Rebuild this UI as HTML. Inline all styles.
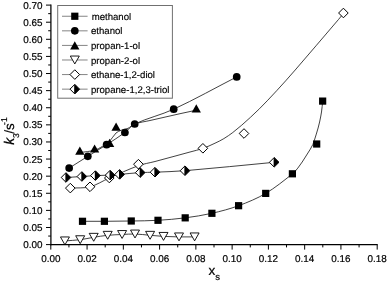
<!DOCTYPE html>
<html><head><meta charset="utf-8"><title>chart</title>
<style>html,body{margin:0;padding:0;background:#fff;}body{width:387px;height:281px;overflow:hidden;}</style></head>
<body>
<svg width="387" height="281" viewBox="0 0 387 281" style="display:block" text-rendering="geometricPrecision">
<rect width="387" height="281" fill="#fff"/>
<path d="M82.50 221.30 C89.80 221.30 97.10 221.34 104.40 221.30 C113.35 221.24 122.30 221.17 131.25 221.00 C140.17 220.83 149.10 220.82 158.00 220.30 C167.08 219.77 176.18 219.02 185.20 217.85 C194.15 216.69 203.11 215.30 211.90 213.30 C220.91 211.25 229.95 208.90 238.60 205.70 C247.88 202.27 257.21 198.43 265.70 193.40 C275.17 187.79 283.83 180.63 292.50 173.80 C294.53 172.20 296.16 170.10 297.80 168.10 C299.39 166.17 300.79 164.07 302.20 162.00 C303.53 160.04 304.73 158.00 306.00 156.00 C307.43 153.73 308.93 151.50 310.30 149.20 C311.23 147.64 312.15 146.05 312.90 144.40 C313.51 143.05 313.93 141.61 314.40 140.20 C315.07 138.18 315.68 136.14 316.30 134.10 C316.92 132.07 317.54 130.04 318.10 128.00 C318.64 126.01 319.17 124.02 319.60 122.00 C320.30 118.68 321.00 115.35 321.50 112.00 C322.03 108.42 322.30 104.80 322.70 101.20" fill="none" stroke="#111" stroke-width="0.8"/>
<rect x="78.90" y="217.70" width="7.20" height="7.20" fill="#000"/>
<rect x="100.80" y="217.70" width="7.20" height="7.20" fill="#000"/>
<rect x="127.65" y="217.40" width="7.20" height="7.20" fill="#000"/>
<rect x="154.40" y="216.70" width="7.20" height="7.20" fill="#000"/>
<rect x="181.60" y="214.25" width="7.20" height="7.20" fill="#000"/>
<rect x="208.30" y="209.70" width="7.20" height="7.20" fill="#000"/>
<rect x="235.00" y="202.10" width="7.20" height="7.20" fill="#000"/>
<rect x="262.10" y="189.80" width="7.20" height="7.20" fill="#000"/>
<rect x="288.80" y="170.20" width="7.20" height="7.20" fill="#000"/>
<rect x="313.10" y="140.40" width="7.20" height="7.20" fill="#000"/>
<rect x="319.05" y="97.50" width="7.20" height="7.20" fill="#000"/>
<path d="M69.15 168.10 C75.37 164.17 81.56 160.20 87.80 156.30 C94.04 152.40 100.40 148.68 106.60 144.70 C112.77 140.74 119.01 136.84 124.90 132.50 C128.38 129.94 130.84 125.84 134.70 124.00 C147.11 118.08 161.09 115.02 173.70 109.20 C195.09 99.32 215.70 87.67 236.70 76.90" fill="none" stroke="#111" stroke-width="0.8"/>
<circle cx="69.15" cy="168.10" r="3.85" fill="#000"/>
<circle cx="87.80" cy="156.30" r="3.85" fill="#000"/>
<circle cx="106.60" cy="144.70" r="3.85" fill="#000"/>
<circle cx="124.90" cy="132.50" r="3.85" fill="#000"/>
<circle cx="134.70" cy="124.00" r="3.85" fill="#000"/>
<circle cx="173.70" cy="109.20" r="3.85" fill="#000"/>
<circle cx="236.70" cy="76.90" r="3.85" fill="#000"/>
<path d="M79.85 152.60 C84.77 151.80 89.85 151.52 94.60 150.20 C97.40 149.42 99.98 147.79 102.50 146.30 C104.95 144.86 107.49 143.38 109.50 141.40 C111.99 138.94 113.48 135.37 116.00 133.00 C117.44 131.64 119.52 130.94 121.40 130.20 C123.52 129.37 125.95 129.26 128.00 128.30 C130.38 127.19 132.23 124.87 134.70 124.00 C139.57 122.27 144.90 121.66 150.00 120.50 C155.00 119.36 160.00 118.23 165.00 117.10 C170.00 115.97 174.99 114.80 180.00 113.70 C185.43 112.50 190.87 111.37 196.30 110.20" fill="none" stroke="#111" stroke-width="0.8"/>
<path d="M79.85 146.55 L84.50 154.75 L75.20 154.75 Z" fill="#000"/>
<path d="M94.60 144.40 L99.25 152.60 L89.95 152.60 Z" fill="#000"/>
<path d="M109.60 138.80 L114.25 147.00 L104.95 147.00 Z" fill="#000"/>
<path d="M116.10 122.50 L120.75 130.70 L111.45 130.70 Z" fill="#000"/>
<path d="M196.30 104.30 L200.95 112.50 L191.65 112.50 Z" fill="#000"/>
<path d="M64.95 240.90 C70.03 240.50 75.15 240.33 80.20 239.70 C84.73 239.13 89.19 238.02 93.70 237.30 C98.35 236.56 103.01 235.76 107.70 235.30 C112.48 234.83 117.30 234.73 122.10 234.50 C126.40 234.30 130.71 233.88 135.00 234.00 C140.04 234.14 145.07 234.88 150.10 235.30 C154.57 235.68 159.03 236.15 163.50 236.40 C168.66 236.69 173.83 236.82 179.00 236.90 C184.20 236.98 189.40 236.90 194.60 236.90" fill="none" stroke="#111" stroke-width="0.8"/>
<path d="M64.95 244.85 L69.45 236.95 L60.45 236.95 Z" fill="#fff" stroke="#000" stroke-width="0.9"/>
<path d="M80.20 243.65 L84.70 235.75 L75.70 235.75 Z" fill="#fff" stroke="#000" stroke-width="0.9"/>
<path d="M93.70 241.25 L98.20 233.35 L89.20 233.35 Z" fill="#fff" stroke="#000" stroke-width="0.9"/>
<path d="M107.70 239.25 L112.20 231.35 L103.20 231.35 Z" fill="#fff" stroke="#000" stroke-width="0.9"/>
<path d="M122.10 238.45 L126.60 230.55 L117.60 230.55 Z" fill="#fff" stroke="#000" stroke-width="0.9"/>
<path d="M135.00 237.95 L139.50 230.05 L130.50 230.05 Z" fill="#fff" stroke="#000" stroke-width="0.9"/>
<path d="M150.10 239.25 L154.60 231.35 L145.60 231.35 Z" fill="#fff" stroke="#000" stroke-width="0.9"/>
<path d="M163.50 240.35 L168.00 232.45 L159.00 232.45 Z" fill="#fff" stroke="#000" stroke-width="0.9"/>
<path d="M179.00 240.85 L183.50 232.95 L174.50 232.95 Z" fill="#fff" stroke="#000" stroke-width="0.9"/>
<path d="M194.60 240.85 L199.10 232.95 L190.10 232.95 Z" fill="#fff" stroke="#000" stroke-width="0.9"/>
<path d="M70.30 188.10 C76.87 187.67 83.73 188.42 90.00 186.80 C96.73 185.06 102.82 180.83 109.30 178.00 C118.95 173.79 128.52 169.27 138.40 165.70 C143.75 163.77 149.48 162.95 155.00 161.50 C161.68 159.75 168.34 157.91 175.00 156.10 C180.00 154.74 185.00 153.38 190.00 152.00 C194.30 150.81 198.70 149.88 202.90 148.40 C207.03 146.95 211.02 145.06 215.00 143.20 C218.02 141.79 221.04 140.32 223.90 138.60 C226.98 136.75 229.93 134.66 232.80 132.50 C235.86 130.19 238.79 127.70 241.70 125.20 C244.72 122.60 247.67 119.91 250.60 117.20 C253.57 114.44 256.52 111.65 259.40 108.80 C262.25 105.98 265.03 103.10 267.80 100.20 C270.80 97.06 273.76 93.89 276.70 90.70 C279.69 87.46 282.66 84.19 285.60 80.90 C288.83 77.29 292.03 73.66 295.20 70.00 C302.16 61.96 309.08 53.88 316.00 45.80 C323.48 37.08 330.95 28.35 338.40 19.60 C340.09 17.62 341.73 15.60 343.40 13.60" fill="none" stroke="#111" stroke-width="0.8"/>
<path d="M70.30 183.30 L75.10 188.10 L70.30 192.90 L65.50 188.10 Z" fill="#fff" stroke="#000" stroke-width="1"/>
<path d="M90.00 182.00 L94.80 186.80 L90.00 191.60 L85.20 186.80 Z" fill="#fff" stroke="#000" stroke-width="1"/>
<path d="M109.30 173.20 L114.10 178.00 L109.30 182.80 L104.50 178.00 Z" fill="#fff" stroke="#000" stroke-width="1"/>
<path d="M138.40 159.40 L143.20 164.20 L138.40 169.00 L133.60 164.20 Z" fill="#fff" stroke="#000" stroke-width="1"/>
<path d="M202.90 143.50 L207.70 148.30 L202.90 153.10 L198.10 148.30 Z" fill="#fff" stroke="#000" stroke-width="1"/>
<path d="M244.00 128.70 L248.80 133.50 L244.00 138.30 L239.20 133.50 Z" fill="#fff" stroke="#000" stroke-width="1"/>
<path d="M343.40 8.20 L348.20 13.00 L343.40 17.80 L338.60 13.00 Z" fill="#fff" stroke="#000" stroke-width="1"/>
<path d="M66.00 177.50 C71.30 177.17 76.60 176.84 81.90 176.50 C86.40 176.21 90.90 175.82 95.40 175.60 C100.30 175.36 105.20 175.34 110.10 175.10 C113.27 174.94 116.44 174.66 119.60 174.40 C126.47 173.83 133.32 173.03 140.20 172.60 C145.12 172.29 150.07 172.41 155.00 172.20 C165.00 171.78 175.02 171.53 185.00 170.70 C214.76 168.23 244.47 165.10 274.20 162.30" fill="none" stroke="#111" stroke-width="0.8"/>
<path d="M66.00 172.70 L70.80 177.50 L66.00 182.30 L61.20 177.50 Z" fill="#fff" stroke="#000" stroke-width="1"/>
<path d="M65.40 173.30 L66.00 172.70 L70.80 177.50 L66.00 182.30 L65.40 181.70 Z" fill="#000"/>
<path d="M81.90 171.70 L86.70 176.50 L81.90 181.30 L77.10 176.50 Z" fill="#fff" stroke="#000" stroke-width="1"/>
<path d="M81.30 172.30 L81.90 171.70 L86.70 176.50 L81.90 181.30 L81.30 180.70 Z" fill="#000"/>
<path d="M95.40 170.80 L100.20 175.60 L95.40 180.40 L90.60 175.60 Z" fill="#fff" stroke="#000" stroke-width="1"/>
<path d="M94.80 171.40 L95.40 170.80 L100.20 175.60 L95.40 180.40 L94.80 179.80 Z" fill="#000"/>
<path d="M110.10 170.30 L114.90 175.10 L110.10 179.90 L105.30 175.10 Z" fill="#fff" stroke="#000" stroke-width="1"/>
<path d="M109.50 170.90 L110.10 170.30 L114.90 175.10 L110.10 179.90 L109.50 179.30 Z" fill="#000"/>
<path d="M119.60 169.60 L124.40 174.40 L119.60 179.20 L114.80 174.40 Z" fill="#fff" stroke="#000" stroke-width="1"/>
<path d="M119.00 170.20 L119.60 169.60 L124.40 174.40 L119.60 179.20 L119.00 178.60 Z" fill="#000"/>
<path d="M140.20 167.80 L145.00 172.60 L140.20 177.40 L135.40 172.60 Z" fill="#fff" stroke="#000" stroke-width="1"/>
<path d="M139.60 168.40 L140.20 167.80 L145.00 172.60 L140.20 177.40 L139.60 176.80 Z" fill="#000"/>
<path d="M155.00 167.40 L159.80 172.20 L155.00 177.00 L150.20 172.20 Z" fill="#fff" stroke="#000" stroke-width="1"/>
<path d="M154.40 168.00 L155.00 167.40 L159.80 172.20 L155.00 177.00 L154.40 176.40 Z" fill="#000"/>
<path d="M185.00 165.90 L189.80 170.70 L185.00 175.50 L180.20 170.70 Z" fill="#fff" stroke="#000" stroke-width="1"/>
<path d="M184.40 166.50 L185.00 165.90 L189.80 170.70 L185.00 175.50 L184.40 174.90 Z" fill="#000"/>
<path d="M274.20 157.50 L279.00 162.30 L274.20 167.10 L269.40 162.30 Z" fill="#fff" stroke="#000" stroke-width="1"/>
<path d="M273.60 158.10 L274.20 157.50 L279.00 162.30 L274.20 167.10 L273.60 166.50 Z" fill="#000"/>
<g stroke="#000" stroke-width="1">
<line x1="50.9" y1="4.6" x2="50.9" y2="245.2" stroke-width="1.25"/>
<line x1="50.3" y1="244.70" x2="377.7" y2="244.70" stroke-width="1.25"/>
<line x1="46.0" y1="244.60" x2="50.8" y2="244.60"/>
<line x1="48.2" y1="236.05" x2="50.8" y2="236.05"/>
<line x1="46.0" y1="227.49" x2="50.8" y2="227.49"/>
<line x1="48.2" y1="218.94" x2="50.8" y2="218.94"/>
<line x1="46.0" y1="210.39" x2="50.8" y2="210.39"/>
<line x1="48.2" y1="201.83" x2="50.8" y2="201.83"/>
<line x1="46.0" y1="193.28" x2="50.8" y2="193.28"/>
<line x1="48.2" y1="184.72" x2="50.8" y2="184.72"/>
<line x1="46.0" y1="176.17" x2="50.8" y2="176.17"/>
<line x1="48.2" y1="167.62" x2="50.8" y2="167.62"/>
<line x1="46.0" y1="159.06" x2="50.8" y2="159.06"/>
<line x1="48.2" y1="150.51" x2="50.8" y2="150.51"/>
<line x1="46.0" y1="141.96" x2="50.8" y2="141.96"/>
<line x1="48.2" y1="133.40" x2="50.8" y2="133.40"/>
<line x1="46.0" y1="124.85" x2="50.8" y2="124.85"/>
<line x1="48.2" y1="116.30" x2="50.8" y2="116.30"/>
<line x1="46.0" y1="107.74" x2="50.8" y2="107.74"/>
<line x1="48.2" y1="99.19" x2="50.8" y2="99.19"/>
<line x1="46.0" y1="90.64" x2="50.8" y2="90.64"/>
<line x1="48.2" y1="82.08" x2="50.8" y2="82.08"/>
<line x1="46.0" y1="73.53" x2="50.8" y2="73.53"/>
<line x1="48.2" y1="64.97" x2="50.8" y2="64.97"/>
<line x1="46.0" y1="56.42" x2="50.8" y2="56.42"/>
<line x1="48.2" y1="47.87" x2="50.8" y2="47.87"/>
<line x1="46.0" y1="39.31" x2="50.8" y2="39.31"/>
<line x1="48.2" y1="30.76" x2="50.8" y2="30.76"/>
<line x1="46.0" y1="22.21" x2="50.8" y2="22.21"/>
<line x1="48.2" y1="13.65" x2="50.8" y2="13.65"/>
<line x1="46.0" y1="5.10" x2="50.8" y2="5.10"/>
<line x1="50.80" y1="244.6" x2="50.80" y2="249.6"/>
<line x1="68.93" y1="244.6" x2="68.93" y2="247.4"/>
<line x1="87.07" y1="244.6" x2="87.07" y2="249.6"/>
<line x1="105.20" y1="244.6" x2="105.20" y2="247.4"/>
<line x1="123.33" y1="244.6" x2="123.33" y2="249.6"/>
<line x1="141.47" y1="244.6" x2="141.47" y2="247.4"/>
<line x1="159.60" y1="244.6" x2="159.60" y2="249.6"/>
<line x1="177.73" y1="244.6" x2="177.73" y2="247.4"/>
<line x1="195.87" y1="244.6" x2="195.87" y2="249.6"/>
<line x1="214.00" y1="244.6" x2="214.00" y2="247.4"/>
<line x1="232.13" y1="244.6" x2="232.13" y2="249.6"/>
<line x1="250.27" y1="244.6" x2="250.27" y2="247.4"/>
<line x1="268.40" y1="244.6" x2="268.40" y2="249.6"/>
<line x1="286.53" y1="244.6" x2="286.53" y2="247.4"/>
<line x1="304.67" y1="244.6" x2="304.67" y2="249.6"/>
<line x1="322.80" y1="244.6" x2="322.80" y2="247.4"/>
<line x1="340.93" y1="244.6" x2="340.93" y2="249.6"/>
<line x1="359.07" y1="244.6" x2="359.07" y2="247.4"/>
<line x1="377.20" y1="244.6" x2="377.20" y2="249.6"/>
</g>
<g font-family='"Liberation Sans", Arial, sans-serif' font-size="9.9" fill="#000" stroke="#000" stroke-width="0.2">
<text x="42.6" y="248.10" text-anchor="end">0.00</text>
<text x="42.6" y="230.99" text-anchor="end">0.05</text>
<text x="42.6" y="213.89" text-anchor="end">0.10</text>
<text x="42.6" y="196.78" text-anchor="end">0.15</text>
<text x="42.6" y="179.67" text-anchor="end">0.20</text>
<text x="42.6" y="162.56" text-anchor="end">0.25</text>
<text x="42.6" y="145.46" text-anchor="end">0.30</text>
<text x="42.6" y="128.35" text-anchor="end">0.35</text>
<text x="42.6" y="111.24" text-anchor="end">0.40</text>
<text x="42.6" y="94.14" text-anchor="end">0.45</text>
<text x="42.6" y="77.03" text-anchor="end">0.50</text>
<text x="42.6" y="59.92" text-anchor="end">0.55</text>
<text x="42.6" y="42.81" text-anchor="end">0.60</text>
<text x="42.6" y="25.71" text-anchor="end">0.65</text>
<text x="42.6" y="8.60" text-anchor="end">0.70</text>
<text x="50.80" y="261.9" text-anchor="middle">0.00</text>
<text x="87.07" y="261.9" text-anchor="middle">0.02</text>
<text x="123.33" y="261.9" text-anchor="middle">0.04</text>
<text x="159.60" y="261.9" text-anchor="middle">0.06</text>
<text x="195.87" y="261.9" text-anchor="middle">0.08</text>
<text x="232.13" y="261.9" text-anchor="middle">0.10</text>
<text x="268.40" y="261.9" text-anchor="middle">0.12</text>
<text x="304.67" y="261.9" text-anchor="middle">0.14</text>
<text x="340.93" y="261.9" text-anchor="middle">0.16</text>
<text x="377.20" y="261.9" text-anchor="middle">0.18</text>
</g>
<text font-family='"Liberation Sans", Arial, sans-serif' font-size="13.5" fill="#000" stroke="#000" stroke-width="0.2" x="208.5" y="274.5">x<tspan font-size="9.5" dy="5.4">s</tspan></text>
<text font-family='"Liberation Sans", Arial, sans-serif' font-size="14" fill="#000" stroke="#000" stroke-width="0.2" transform="translate(14.3,144.7) rotate(-90)"><tspan font-style="italic">k</tspan><tspan font-size="8.5" dy="4.7" dx="-0.4">3</tspan><tspan dy="-4.7" dx="-0.3" font-size="13.5">/s</tspan><tspan font-size="8.5" dy="-7.7" dx="-1.8">-1</tspan></text>
<rect x="57.7" y="5.5" width="114.7" height="92.7" fill="#fff" stroke="#707070" stroke-width="1"/>
<line x1="62" y1="16.25" x2="87.6" y2="16.25" stroke="#777" stroke-width="0.9"/>
<rect x="71.20" y="12.65" width="7.20" height="7.20" fill="#000"/>
<text font-family='"Liberation Sans", Arial, sans-serif' font-size="9.6" fill="#000" stroke="#000" stroke-width="0.15" x="91.7" y="19.85">methanol</text>
<line x1="62" y1="30.83" x2="87.6" y2="30.83" stroke="#777" stroke-width="0.9"/>
<circle cx="74.80" cy="30.83" r="3.85" fill="#000"/>
<text font-family='"Liberation Sans", Arial, sans-serif' font-size="9.6" fill="#000" stroke="#000" stroke-width="0.15" x="91.0" y="34.43">ethanol</text>
<line x1="62" y1="45.41" x2="87.6" y2="45.41" stroke="#777" stroke-width="0.9"/>
<path d="M74.80 41.31 L79.45 49.51 L70.15 49.51 Z" fill="#000"/>
<text font-family='"Liberation Sans", Arial, sans-serif' font-size="9.6" fill="#000" stroke="#000" stroke-width="0.15" x="91.0" y="49.01">propan-1-ol</text>
<line x1="62" y1="59.99" x2="87.6" y2="59.99" stroke="#777" stroke-width="0.9"/>
<path d="M74.80 63.94 L79.30 56.04 L70.30 56.04 Z" fill="#fff" stroke="#000" stroke-width="0.9"/>
<text font-family='"Liberation Sans", Arial, sans-serif' font-size="9.6" fill="#000" stroke="#000" stroke-width="0.15" x="91.0" y="63.59">propan-2-ol</text>
<line x1="62" y1="74.57" x2="87.6" y2="74.57" stroke="#777" stroke-width="0.9"/>
<path d="M74.80 69.77 L79.60 74.57 L74.80 79.37 L70.00 74.57 Z" fill="#fff" stroke="#000" stroke-width="1"/>
<text font-family='"Liberation Sans", Arial, sans-serif' font-size="9.6" fill="#000" stroke="#000" stroke-width="0.15" x="91.0" y="78.17">ethane-1,2-diol</text>
<line x1="62" y1="89.15" x2="87.6" y2="89.15" stroke="#777" stroke-width="0.9"/>
<path d="M74.80 84.35 L79.60 89.15 L74.80 93.95 L70.00 89.15 Z" fill="#fff" stroke="#000" stroke-width="1"/>
<path d="M74.20 84.95 L74.80 84.35 L79.60 89.15 L74.80 93.95 L74.20 93.35 Z" fill="#000"/>
<text font-family='"Liberation Sans", Arial, sans-serif' font-size="9.6" fill="#000" stroke="#000" stroke-width="0.15" x="91.0" y="92.75">propane-1,2,3-triol</text>
</svg>
</body></html>
